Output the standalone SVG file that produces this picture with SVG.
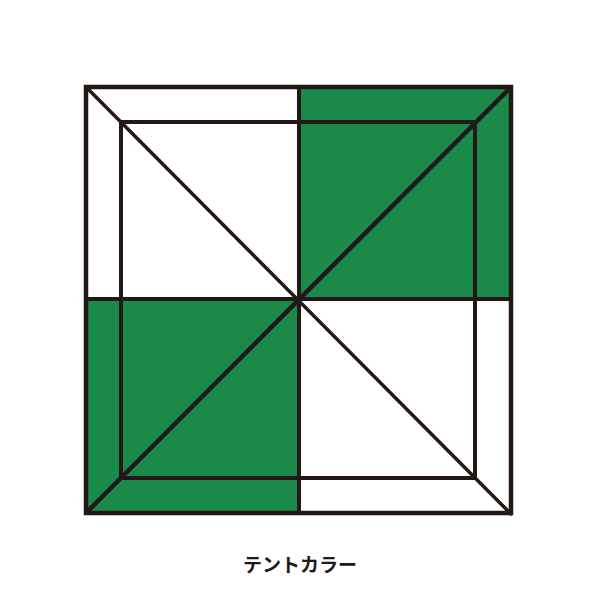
<svg xmlns="http://www.w3.org/2000/svg" width="600" height="600" viewBox="0 0 600 600">
<style>
.ln{stroke:#231815;fill:none;stroke-linecap:butt;stroke-linejoin:miter}
.fill{fill:#1a8a4a}
.lbl{font-family:"Noto Sans CJK JP","Noto Sans",sans-serif;font-size:19px;font-weight:bold;fill:#231815;text-anchor:middle}
</style>
<rect width="600" height="600" fill="#ffffff"/>
<g id="fills">
<rect class="fill" x="299" y="87" width="212" height="212"/>
<rect class="fill" x="86" y="299" width="213" height="215"/>
</g>
<g id="connectors">
<line class="ln" x1="86" y1="87" x2="512" y2="515" stroke-width="3.5"/>
<line class="ln" x1="86" y1="513" x2="511" y2="87" stroke-width="4.5"/>
<line class="ln" x1="299" y1="87" x2="299" y2="513" stroke-width="4"/>
<line class="ln" x1="86" y1="299" x2="511" y2="299" stroke-width="4"/>
<rect class="ln" x="121" y="122" width="354" height="356" stroke-width="4"/>
<rect class="ln" x="86" y="87" width="425" height="426" stroke-width="4.5"/>
</g>
<text class="lbl" x="300" y="572">テントカラー</text>
</svg>
